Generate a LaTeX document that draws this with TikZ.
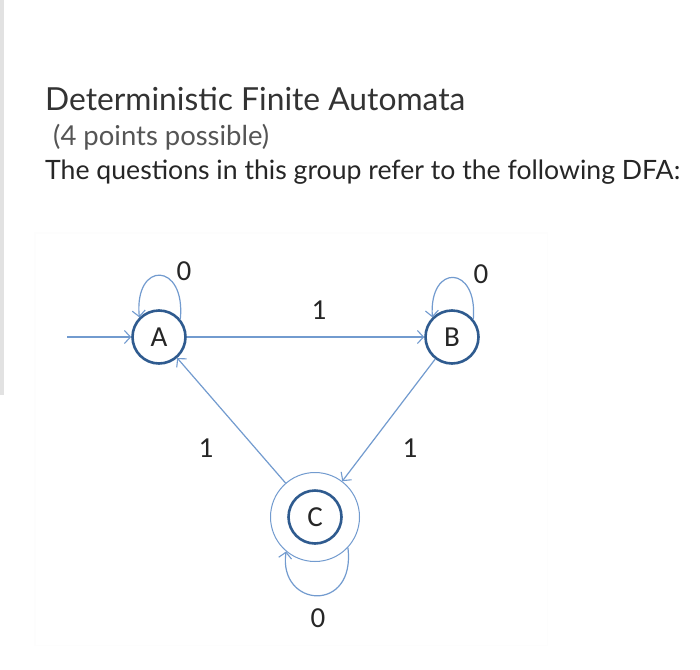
\documentclass[tikz,border=0pt]{standalone}
\usepackage{fontspec}
\setmainfont{Lato}
\newfontfamily\diagfont{Carlito}
\usetikzlibrary{arrows.meta}
\definecolor{statecol}{HTML}{2F5B8F}
\definecolor{edgecol}{HTML}{729BCF}
\definecolor{txtcol}{HTML}{333333}
\definecolor{subcol}{HTML}{555555}
\definecolor{stripcol}{HTML}{E2E2E2}
\tikzset{
  state/.style={circle, draw=statecol, line width=2.6pt, minimum size=53pt, inner sep=0pt, font=\diagfont\fontsize{29}{29}\selectfont, text=black!85},
  acceptring/.style={circle, draw=edgecol, line width=1pt, minimum size=89pt, inner sep=0pt},
  edge/.style={draw=edgecol, line width=1.2pt, -{Straight Barb[length=6pt,width=13pt,line width=1.1pt]}},
  thickedge/.style={edge, line width=1.7pt},
  lab/.style={font=\diagfont\fontsize{29}{29}\selectfont, text=black!85, inner sep=0pt},
  head/.style={anchor=base west, inner sep=0pt}
}
\begin{document}
\begin{tikzpicture}[x=1pt,y=-1pt]
\useasboundingbox (0,0) rectangle (700,669);
\fill[white] (0,0) rectangle (700,669);
\fill[stripcol] (0,0) rectangle (4,395);
\fill[black!0.8] (34,232) rectangle (548,646);
\fill[white] (35.5,233.5) rectangle (546.5,644.5);
% header texts
\node[head, text=txtcol] (title) at (45,110) {\resizebox{420pt}{!}{Deterministic Finite Automata}};
\node[head, text=subcol] (points) at (53,145) {\resizebox{216pt}{!}{(4 points possible)}};
\node[head, text=black!85] (question) at (45,179) {\resizebox{635pt}{!}{The questions in this group refer to the following DFA:}};
% states
\node[state] (A) at (159,337) {A};
\node[state] (B) at (452,337) {B};
\node[state] (C) at (315,517) {C};
\node[acceptring] (Co) at (315,517) {};
\coordinate (start) at (67,337);
% transitions
\draw[thickedge] (start) -- (A);
\draw[thickedge] (A) -- (B);
\draw[edge] (B) -- (Co);
\draw[edge] (Co) -- (A);
\draw[edge] (A.40) .. controls (186,262) and (134,260) .. (A.135);
\draw[edge] (B.40) .. controls (478,265) and (429,263) .. (B.135);
\draw[edge] (Co.317) .. controls (356,614) and (278,608) .. (Co.230);
% labels
\node[lab] (l0a) at (184,271) {0};
\node[lab] (l0b) at (481,274) {0};
\node[lab] (l0c) at (318,618) {0};
\node[lab] (l1ab) at (319,310) {1};
\node[lab] (l1ca) at (206,448) {1};
\node[lab] (l1bc) at (410,448) {1};
\end{tikzpicture}
\end{document}
